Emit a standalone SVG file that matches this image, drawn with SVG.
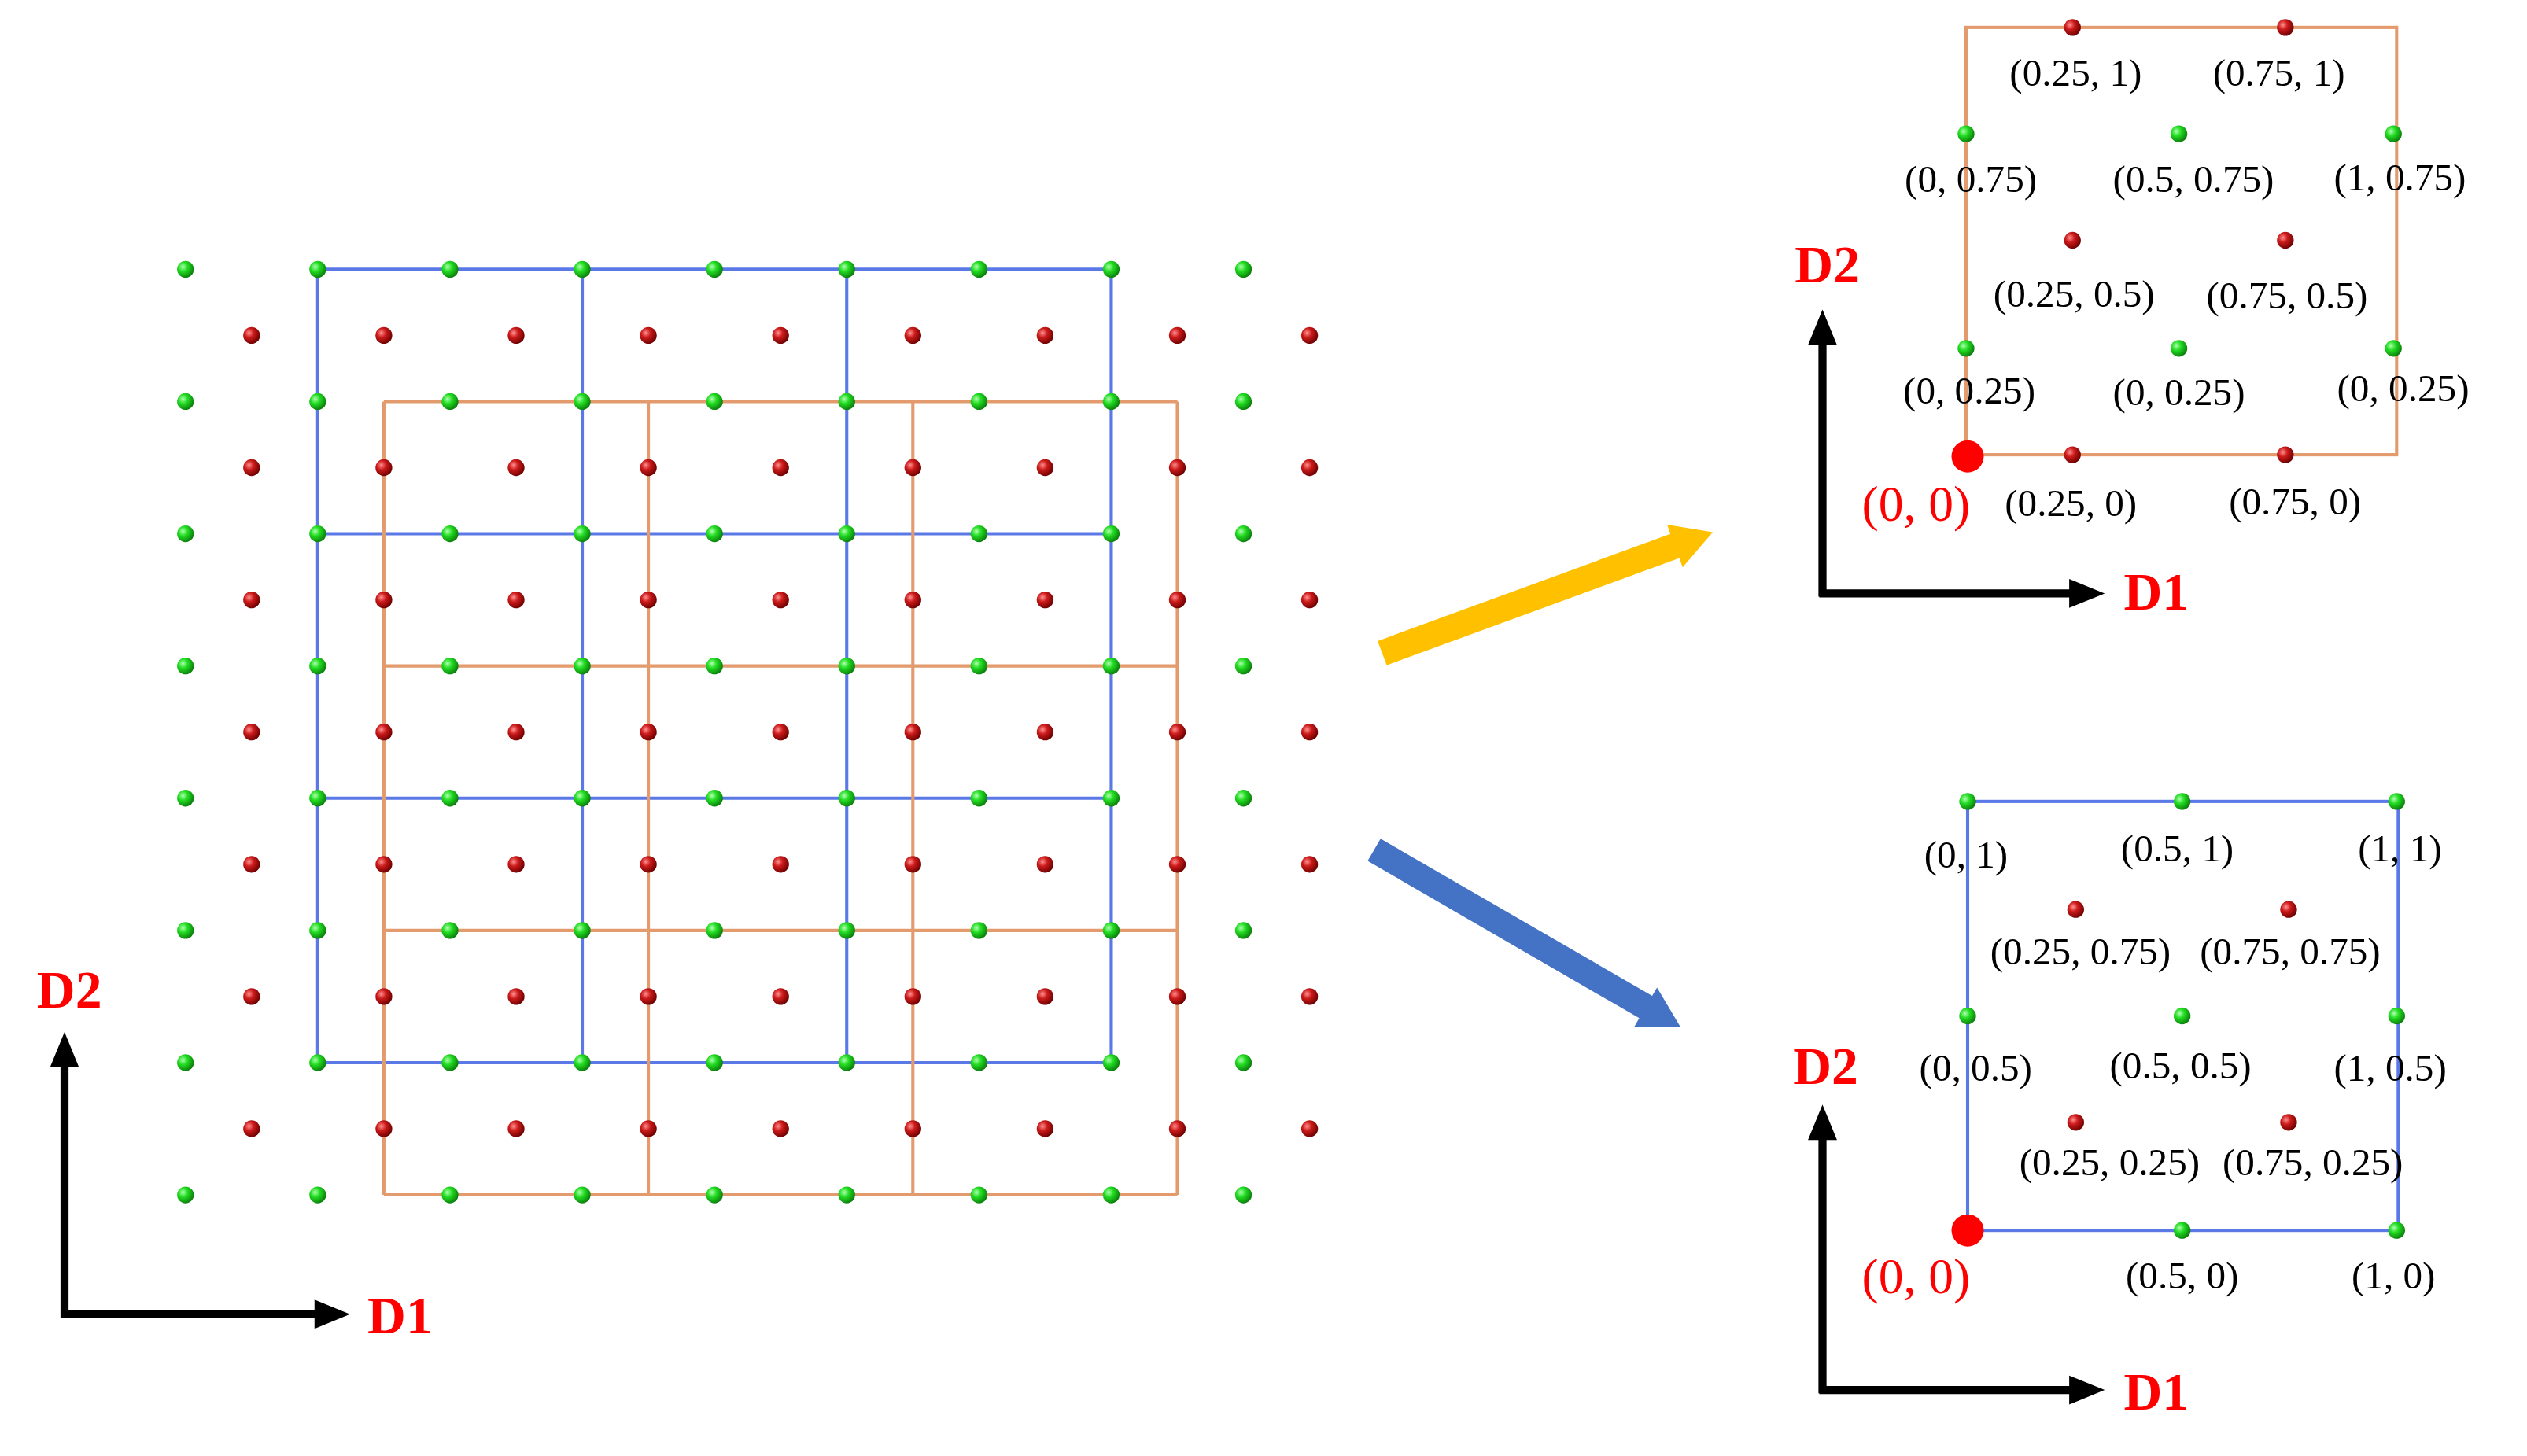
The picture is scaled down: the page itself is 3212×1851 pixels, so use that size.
<svg xmlns="http://www.w3.org/2000/svg" xmlns:xlink="http://www.w3.org/1999/xlink" width="3212" height="1851" viewBox="0 0 3212 1851">
<defs>
<radialGradient id="gg" cx="0.35" cy="0.35" r="0.7"><stop offset="0" stop-color="#b0ffb0"/><stop offset="0.4" stop-color="#22dd22"/><stop offset="1" stop-color="#0a7a0a"/></radialGradient>
<radialGradient id="rg" cx="0.35" cy="0.35" r="0.7"><stop offset="0" stop-color="#ff9090"/><stop offset="0.4" stop-color="#cc1a1a"/><stop offset="1" stop-color="#6a0000"/></radialGradient>
<circle id="g" r="5.2" fill="url(#gg)"/>
<circle id="r" r="5.2" fill="url(#rg)"/>
<style>
.bl{stroke:#5a78e6;stroke-width:2;fill:none}
.or{stroke:#e39a6c;stroke-width:2;fill:none}
.ax{stroke:#000;stroke-width:5;fill:none}
.lb{font-family:"Liberation Serif",serif;font-size:24px;fill:#000;text-anchor:middle}
.zz{font-family:"Liberation Serif",serif;font-size:31px;fill:#f00;text-anchor:middle}
.dl{font-family:"Liberation Serif",serif;font-size:33px;font-weight:bold;fill:#f00;text-anchor:middle}
</style>
</defs>
<rect width="3212" height="1851" fill="#fff"/>
<g transform="scale(2.05)">
<g id="lattice">
<path class="bl" d="M197,167V659M361,167V659M525,167V659M689,167V659M197,167H689M197,331H689M197,495H689M197,659H689"/>
<path class="or" d="M238,249V741M402,249V741M566,249V741M730,249V741M238,249H730M238,413H730M238,577H730M238,741H730"/>
<g id="greens">
<use href="#g" x="115" y="167"/><use href="#g" x="197" y="167"/><use href="#g" x="279" y="167"/><use href="#g" x="361" y="167"/><use href="#g" x="443" y="167"/><use href="#g" x="525" y="167"/><use href="#g" x="607" y="167"/><use href="#g" x="689" y="167"/><use href="#g" x="771" y="167"/>
<use href="#g" x="115" y="249"/><use href="#g" x="197" y="249"/><use href="#g" x="279" y="249"/><use href="#g" x="361" y="249"/><use href="#g" x="443" y="249"/><use href="#g" x="525" y="249"/><use href="#g" x="607" y="249"/><use href="#g" x="689" y="249"/><use href="#g" x="771" y="249"/>
<use href="#g" x="115" y="331"/><use href="#g" x="197" y="331"/><use href="#g" x="279" y="331"/><use href="#g" x="361" y="331"/><use href="#g" x="443" y="331"/><use href="#g" x="525" y="331"/><use href="#g" x="607" y="331"/><use href="#g" x="689" y="331"/><use href="#g" x="771" y="331"/>
<use href="#g" x="115" y="413"/><use href="#g" x="197" y="413"/><use href="#g" x="279" y="413"/><use href="#g" x="361" y="413"/><use href="#g" x="443" y="413"/><use href="#g" x="525" y="413"/><use href="#g" x="607" y="413"/><use href="#g" x="689" y="413"/><use href="#g" x="771" y="413"/>
<use href="#g" x="115" y="495"/><use href="#g" x="197" y="495"/><use href="#g" x="279" y="495"/><use href="#g" x="361" y="495"/><use href="#g" x="443" y="495"/><use href="#g" x="525" y="495"/><use href="#g" x="607" y="495"/><use href="#g" x="689" y="495"/><use href="#g" x="771" y="495"/>
<use href="#g" x="115" y="577"/><use href="#g" x="197" y="577"/><use href="#g" x="279" y="577"/><use href="#g" x="361" y="577"/><use href="#g" x="443" y="577"/><use href="#g" x="525" y="577"/><use href="#g" x="607" y="577"/><use href="#g" x="689" y="577"/><use href="#g" x="771" y="577"/>
<use href="#g" x="115" y="659"/><use href="#g" x="197" y="659"/><use href="#g" x="279" y="659"/><use href="#g" x="361" y="659"/><use href="#g" x="443" y="659"/><use href="#g" x="525" y="659"/><use href="#g" x="607" y="659"/><use href="#g" x="689" y="659"/><use href="#g" x="771" y="659"/>
<use href="#g" x="115" y="741"/><use href="#g" x="197" y="741"/><use href="#g" x="279" y="741"/><use href="#g" x="361" y="741"/><use href="#g" x="443" y="741"/><use href="#g" x="525" y="741"/><use href="#g" x="607" y="741"/><use href="#g" x="689" y="741"/><use href="#g" x="771" y="741"/>
</g>
<g id="reds">
<use href="#r" x="156" y="208"/><use href="#r" x="238" y="208"/><use href="#r" x="320" y="208"/><use href="#r" x="402" y="208"/><use href="#r" x="484" y="208"/><use href="#r" x="566" y="208"/><use href="#r" x="648" y="208"/><use href="#r" x="730" y="208"/><use href="#r" x="812" y="208"/>
<use href="#r" x="156" y="290"/><use href="#r" x="238" y="290"/><use href="#r" x="320" y="290"/><use href="#r" x="402" y="290"/><use href="#r" x="484" y="290"/><use href="#r" x="566" y="290"/><use href="#r" x="648" y="290"/><use href="#r" x="730" y="290"/><use href="#r" x="812" y="290"/>
<use href="#r" x="156" y="372"/><use href="#r" x="238" y="372"/><use href="#r" x="320" y="372"/><use href="#r" x="402" y="372"/><use href="#r" x="484" y="372"/><use href="#r" x="566" y="372"/><use href="#r" x="648" y="372"/><use href="#r" x="730" y="372"/><use href="#r" x="812" y="372"/>
<use href="#r" x="156" y="454"/><use href="#r" x="238" y="454"/><use href="#r" x="320" y="454"/><use href="#r" x="402" y="454"/><use href="#r" x="484" y="454"/><use href="#r" x="566" y="454"/><use href="#r" x="648" y="454"/><use href="#r" x="730" y="454"/><use href="#r" x="812" y="454"/>
<use href="#r" x="156" y="536"/><use href="#r" x="238" y="536"/><use href="#r" x="320" y="536"/><use href="#r" x="402" y="536"/><use href="#r" x="484" y="536"/><use href="#r" x="566" y="536"/><use href="#r" x="648" y="536"/><use href="#r" x="730" y="536"/><use href="#r" x="812" y="536"/>
<use href="#r" x="156" y="618"/><use href="#r" x="238" y="618"/><use href="#r" x="320" y="618"/><use href="#r" x="402" y="618"/><use href="#r" x="484" y="618"/><use href="#r" x="566" y="618"/><use href="#r" x="648" y="618"/><use href="#r" x="730" y="618"/><use href="#r" x="812" y="618"/>
<use href="#r" x="156" y="700"/><use href="#r" x="238" y="700"/><use href="#r" x="320" y="700"/><use href="#r" x="402" y="700"/><use href="#r" x="484" y="700"/><use href="#r" x="566" y="700"/><use href="#r" x="648" y="700"/><use href="#r" x="730" y="700"/><use href="#r" x="812" y="700"/>
</g>
</g>
<g id="axes-left">
<path class="ax" d="M40,817V660M38,815H196"/>
<polygon points="31,662 49,662 40,640"/><polygon points="195,806 195,824 217,815"/>
<text class="dl" x="43" y="625">D2</text><text class="dl" x="248" y="827">D1</text>
</g>
<g id="connectors">
<polygon fill="#FFC000" points="854.2,397.5 1035.7,331.1 1033.7,325.4 1062,330 1043.3,351.8 1041.3,346.1 859.8,412.5"/>
<polygon fill="#4472C4" points="856,520.1 1024.4,617.6 1027.4,612.4 1042,637 1013.4,636.6 1016.4,631.4 848,533.9"/>
</g>
<g id="cell-orange">
<rect class="or" x="1219" y="17" width="267" height="265"/>
<use href="#r" x="1285" y="17"/><use href="#r" x="1417" y="17"/>
<use href="#g" x="1219" y="83"/><use href="#g" x="1351" y="83"/><use href="#g" x="1484" y="83"/>
<use href="#r" x="1285" y="149"/><use href="#r" x="1417" y="149"/>
<use href="#g" x="1219" y="216"/><use href="#g" x="1351" y="216"/><use href="#g" x="1484" y="216"/>
<use href="#r" x="1285" y="282"/><use href="#r" x="1417" y="282"/>
<circle cx="1220" cy="283" r="10" fill="#f00"/>
<text class="lb" x="1287" y="53">(0.25, 1)</text><text class="lb" x="1413" y="53">(0.75, 1)</text>
<text class="lb" x="1222" y="119">(0, 0.75)</text><text class="lb" x="1360" y="119">(0.5, 0.75)</text><text class="lb" x="1488" y="118">(1, 0.75)</text>
<text class="lb" x="1286" y="190">(0.25, 0.5)</text><text class="lb" x="1418" y="191">(0.75, 0.5)</text>
<text class="lb" x="1221" y="250">(0, 0.25)</text><text class="lb" x="1351" y="251">(0, 0.25)</text><text class="lb" x="1490" y="249">(0, 0.25)</text>
<text class="zz" x="1188" y="323">(0, 0)</text><text class="lb" x="1284" y="320">(0.25, 0)</text><text class="lb" x="1423" y="319">(0.75, 0)</text>
<path class="ax" d="M1130,370V212M1128,368H1284"/>
<polygon points="1121,214 1139,214 1130,192"/><polygon points="1283,359 1283,377 1305,368"/>
<text class="dl" x="1133" y="175">D2</text><text class="dl" x="1337" y="378">D1</text>
</g>
<g id="cell-blue">
<rect class="bl" x="1220" y="497" width="267" height="266"/>
<use href="#g" x="1220" y="497"/><use href="#g" x="1353" y="497"/><use href="#g" x="1486" y="497"/>
<use href="#r" x="1287" y="564"/><use href="#r" x="1419" y="564"/>
<use href="#g" x="1220" y="630"/><use href="#g" x="1353" y="630"/><use href="#g" x="1486" y="630"/>
<use href="#r" x="1287" y="696"/><use href="#r" x="1419" y="696"/>
<use href="#g" x="1353" y="763"/><use href="#g" x="1486" y="763"/>
<circle cx="1220" cy="763" r="10" fill="#f00"/>
<text class="lb" x="1219" y="538">(0, 1)</text><text class="lb" x="1350" y="534">(0.5, 1)</text><text class="lb" x="1488" y="534">(1, 1)</text>
<text class="lb" x="1290" y="598">(0.25, 0.75)</text><text class="lb" x="1420" y="598">(0.75, 0.75)</text>
<text class="lb" x="1225" y="670">(0, 0.5)</text><text class="lb" x="1352" y="669">(0.5, 0.5)</text><text class="lb" x="1482" y="670">(1, 0.5)</text>
<text class="lb" x="1308" y="729">(0.25, 0.25)</text><text class="lb" x="1434" y="729">(0.75, 0.25)</text>
<text class="zz" x="1188" y="802">(0, 0)</text><text class="lb" x="1353" y="799">(0.5, 0)</text><text class="lb" x="1484" y="799">(1, 0)</text>
<path class="ax" d="M1130,864V705M1128,862H1284"/>
<polygon points="1121,707 1139,707 1130,685"/><polygon points="1283,853 1283,871 1305,862"/>
<text class="dl" x="1132" y="672">D2</text><text class="dl" x="1337" y="874">D1</text>
</g>
</g>
</svg>
